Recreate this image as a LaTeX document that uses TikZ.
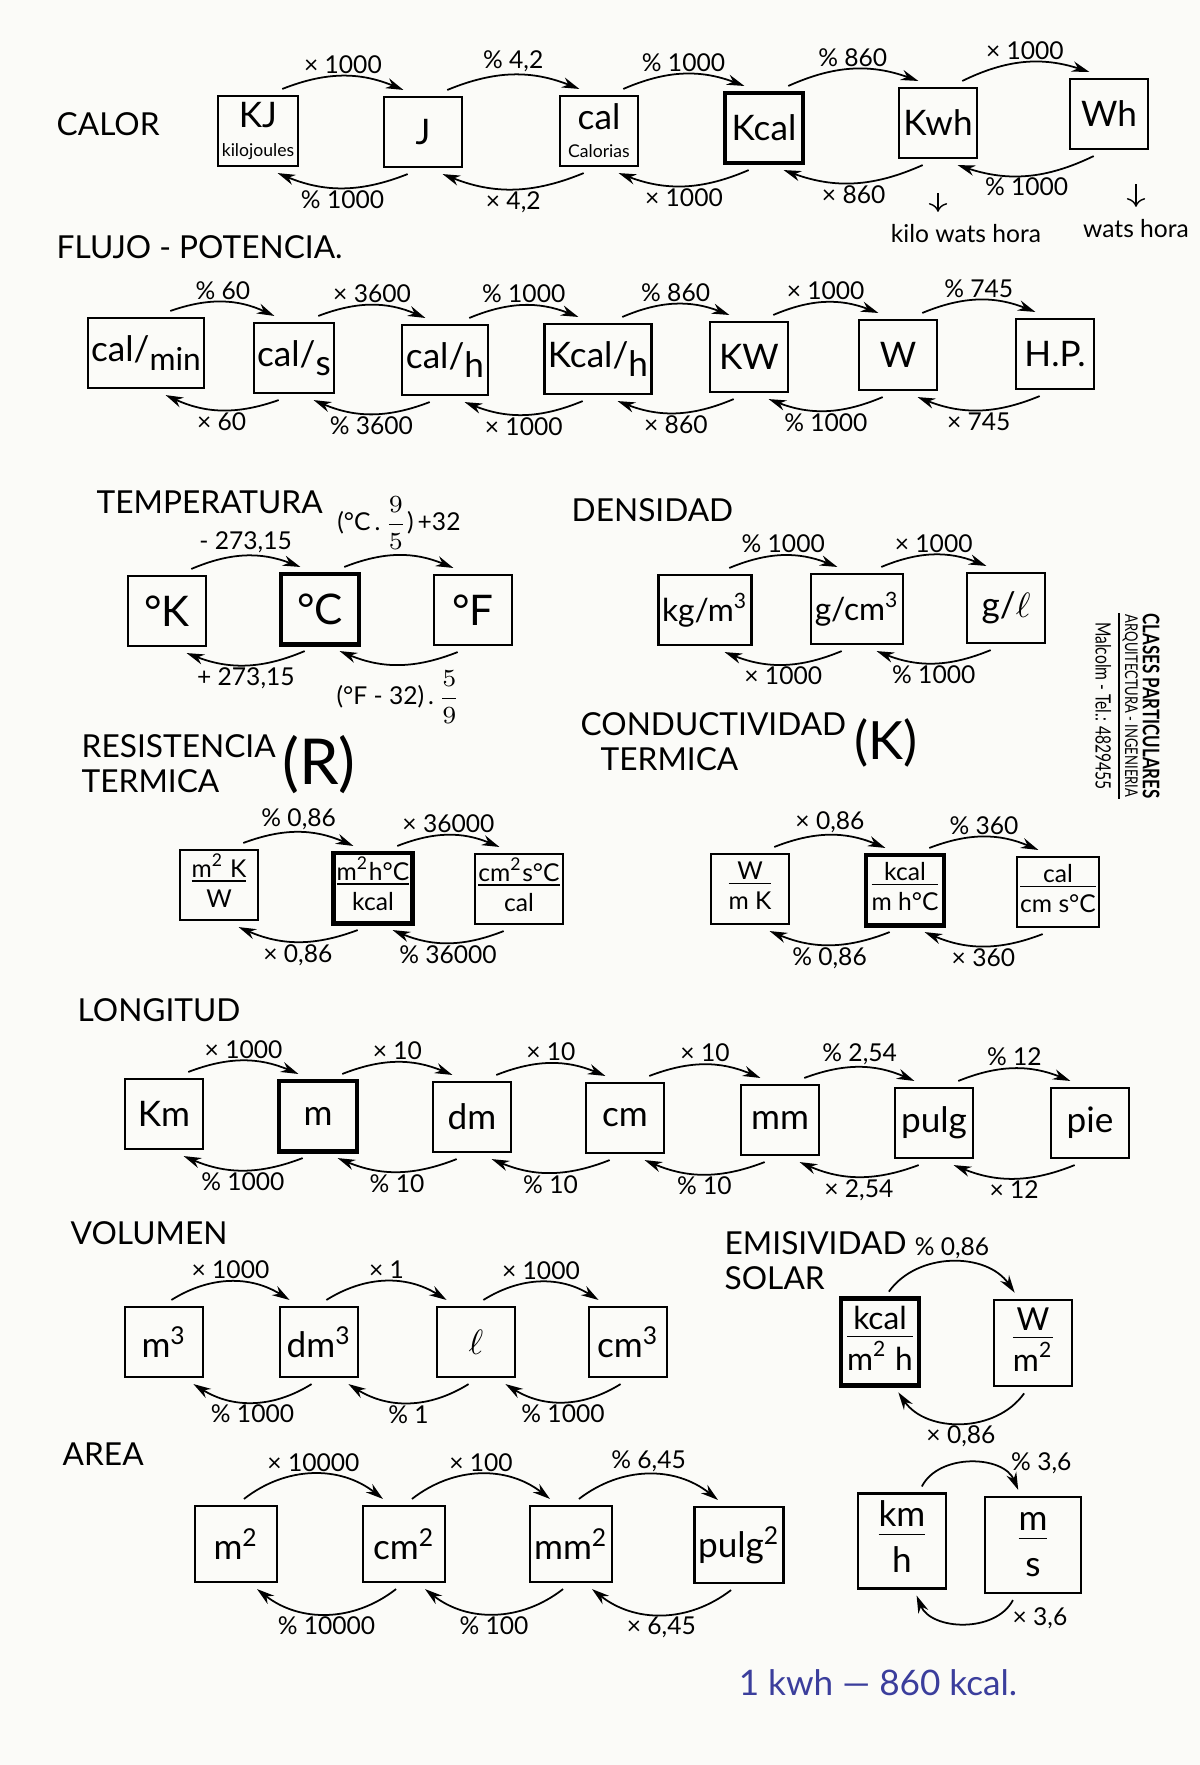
\documentclass[tikz,border=0pt]{standalone}
\usepackage{fontspec}
\setmainfont{Lato}
\usepackage{tikz}
\usetikzlibrary{arrows.meta}
\definecolor{penBlue}{HTML}{3B3E9C}
\definecolor{paperTone}{HTML}{FBFBF8}
\newcommand{\ufrac}[2]{\begin{tabular}{@{}c@{}}#1\\[-1.5pt]\hline\rule{0pt}{1.05em}#2\end{tabular}}

\begin{document}
\begin{tikzpicture}[x=0.01cm,y=0.01cm,
  unitbox/.style={draw,line width=0.6pt,minimum width=0.78cm,minimum height=0.70cm,
    inner sep=1pt,outer sep=2pt,align=center,font=\normalsize},
  keybox/.style={unitbox,line width=1.4pt},
  bigbox/.style={minimum width=0.82cm,minimum height=0.76cm},
  conv/.style={-{Stealth[length=5pt,width=3pt]},line width=0.5pt,bend left=22},
  factor/.style={font=\scriptsize,inner sep=0.5pt},
  heading/.style={anchor=west,align=left,inner sep=0pt,font=\fontsize{9}{10}\selectfont}]
\useasboundingbox (0,0) rectangle (1200,-1765);
\fill[paperTone] (0,0) rectangle (1200,-1765);

% calor
\node[heading] (calorT) at (56,-124) {CALOR};
\node[unitbox] (kj) at (258,-131) {KJ\\[-4pt]{\tiny kilojoules}};
\node[unitbox] (j) at (423,-132) {J};
\node[unitbox] (cal) at (599,-131) {cal\\[-4pt]{\tiny Calorias}};
\node[keybox] (kcal) at (764,-128) {Kcal};
\node[unitbox] (kwh) at (938,-123) {Kwh};
\node[unitbox] (wh) at (1109,-114) {Wh};
\foreach \a/\b/\t in {kj/j/{× 1000},j/cal/{\% 4,2},cal/kcal/{\% 1000},kcal/kwh/{\% 860},kwh/wh/{× 1000}}
  \draw[conv] (\a.60) to node[factor,above] {\t} (\b.115);
\foreach \a/\b/\t in {j/kj/{\% 1000},cal/j/{× 4,2},kcal/cal/{× 1000},kwh/kcal/{× 860},wh/kwh/{\% 1000}}
  \draw[conv] (\a.250) to node[factor,below] {\t} (\b.295);
\node[factor] (kwhnote) at (966,-234) {kilo wats hora};
\node[factor] (whnote) at (1136,-229) {wats hora};
\draw[->,line width=0.4pt,shorten <=8pt,shorten >=3pt] (kwh.south) -- (kwh.south |- kwhnote.north);
\draw[->,line width=0.4pt,shorten <=8pt,shorten >=3pt] (whnote.north |- wh.south) -- (whnote.north);

% flujo - potencia
\node[heading] (flujoT) at (56,-247) {FLUJO - POTENCIA.};
\node[unitbox] (calmin) at (146,-353) {cal/\raisebox{-0.5ex}{\small min}};
\node[unitbox] (cals) at (294,-358) {cal/\raisebox{-0.5ex}{s}};
\node[unitbox] (calh) at (445,-360) {cal/\raisebox{-0.5ex}{h}};
\node[unitbox] (kcalh) at (598,-359) {Kcal/\raisebox{-0.5ex}{h}};
\node[unitbox] (kw) at (749,-357) {KW};
\node[unitbox] (w) at (898,-355) {W};
\node[unitbox] (hp) at (1055,-354) {H.P.};
\foreach \a/\b/\t in {calmin/cals/{\% 60},cals/calh/{× 3600},calh/kcalh/{\% 1000},kcalh/kw/{\% 860},kw/w/{× 1000},w/hp/{\% 745}}
  \draw[conv] (\a.60) to node[factor,above] {\t} (\b.115);
\foreach \a/\b/\t in {cals/calmin/{× 60},calh/cals/{\% 3600},kcalh/calh/{× 1000},kw/kcalh/{× 860},w/kw/{\% 1000},hp/w/{× 745}}
  \draw[conv] (\a.250) to node[factor,below] {\t} (\b.295);

% temperatura
\node[heading] (tempT) at (96,-502) {TEMPERATURA};
\node[unitbox,font=\large] (degk) at (167,-611) {°K};
\node[keybox,font=\large] (degc) at (320,-609) {°C};
\node[unitbox,font=\large] (degf) at (473,-610) {°F};
\draw[conv] (degk.60) to node[factor,above] {- 273,15} (degc.115);
\draw[conv] (degc.60) to node[factor,above=1pt] {(°C\,.\,${\displaystyle\frac{9}{5}}$)\,+32} (degf.115);
\draw[conv] (degc.250) to node[factor,below] {+ 273,15} (degk.295);
\draw[conv] (degf.250) to node[factor,below=1pt] {(°F - 32)\,.\,${\displaystyle\frac{5}{9}}$} (degc.295);

% densidad
\node[heading] (densT) at (571,-510) {DENSIDAD};
\node[unitbox,font=\small] (kgm) at (705,-610) {kg/m\textsuperscript{3}};
\node[unitbox,font=\small] (gcm) at (857,-609) {g/cm\textsuperscript{3}};
\node[unitbox] (gl) at (1006,-608) {g/$\ell$};
\draw[conv] (kgm.60) to node[factor,above] {\% 1000} (gcm.115);
\draw[conv] (gcm.60) to node[factor,above] {× 1000} (gl.115);
\draw[conv] (gcm.250) to node[factor,below] {× 1000} (kgm.295);
\draw[conv] (gl.250) to node[factor,below] {\% 1000} (gcm.295);

\node[rotate=-90,inner sep=0pt] (stamp) at (1125,-706) {\scalebox{0.74}[1]{\fontsize{5}{5.5}\selectfont
  \renewcommand{\arraystretch}{0.9}\begin{tabular}{@{}c@{}}
  \fontsize{6.5}{7}\selectfont\bfseries CLASES PARTICULARES\\
  \fontsize{5}{5.5}\selectfont ARQUITECTURA - INGENIERIA\\\hline
  \rule{0pt}{6.5pt}\fontsize{6}{7}\selectfont Malcolm - Tel.: 4829455\end{tabular}}};

% resistencia termica
\node[heading] (resT) at (81,-764) {RESISTENCIA\\TERMICA};
\node[font=\fontsize{18}{20}\selectfont] (resR) at (319,-765) {(R)};
\node[unitbox,font=\scriptsize] (rmk) at (219,-885) {\ufrac{m\textsuperscript{2} K}{W}};
\node[keybox,font=\scriptsize] (rmh) at (373,-888) {\ufrac{m\textsuperscript{2}h°C}{kcal}};
\node[unitbox,font=\scriptsize] (rcm) at (519,-889) {\ufrac{cm\textsuperscript{2}s°C}{cal}};
\draw[conv] (rmk.60) to node[factor,above] {\% 0,86} (rmh.115);
\draw[conv] (rmh.60) to node[factor,above] {× 36000} (rcm.115);
\draw[conv] (rmh.250) to node[factor,below] {× 0,86} (rmk.295);
\draw[conv] (rcm.250) to node[factor,below] {\% 36000} (rmh.295);

% conductividad termica
\node[heading] (condT) at (580,-742) {CONDUCTIVIDAD\\\hspace{0.2cm}TERMICA};
\node[font=\fontsize{15}{17}\selectfont] (condK) at (886,-743) {(K)};
\node[unitbox,font=\scriptsize] (kwmk) at (750,-889) {\ufrac{W}{m K}};
\node[keybox,font=\scriptsize] (kkmh) at (905,-890) {\ufrac{kcal}{m h°C}};
\node[unitbox,font=\scriptsize] (kcms) at (1058,-892) {\ufrac{cal}{cm s°C}};
\draw[conv] (kwmk.60) to node[factor,above] {× 0,86} (kkmh.115);
\draw[conv] (kkmh.60) to node[factor,above] {\% 360} (kcms.115);
\draw[conv] (kkmh.250) to node[factor,below] {\% 0,86} (kwmk.295);
\draw[conv] (kcms.250) to node[factor,below] {× 360} (kkmh.295);

% longitud
\node[heading] (longT) at (77,-1010) {LONGITUD};
\node[unitbox] (lkm) at (164,-1114) {Km};
\node[keybox] (lm) at (318,-1116) {m};
\node[unitbox] (ldm) at (472,-1117) {dm};
\node[unitbox] (lcm) at (625,-1118) {cm};
\node[unitbox] (lmm) at (780,-1120) {mm};
\node[unitbox] (lpulg) at (934,-1123) {pulg};
\node[unitbox] (lpie) at (1090,-1123) {pie};
\foreach \a/\b/\t in {lkm/lm/{× 1000},lm/ldm/{× 10},ldm/lcm/{× 10},lcm/lmm/{× 10},lmm/lpulg/{\% 2,54},lpulg/lpie/{\% 12}}
  \draw[conv] (\a.60) to node[factor,above] {\t} (\b.115);
\foreach \a/\b/\t in {lm/lkm/{\% 1000},ldm/lm/{\% 10},lcm/ldm/{\% 10},lmm/lcm/{\% 10},lpulg/lmm/{× 2,54},lpie/lpulg/{× 12}}
  \draw[conv] (\a.250) to node[factor,below] {\t} (\b.295);

% volumen
\node[heading] (volT) at (70,-1233) {VOLUMEN};
\node[unitbox] (vm) at (164,-1342) {m\textsuperscript{3}};
\node[unitbox] (vdm) at (319,-1342) {dm\textsuperscript{3}};
\node[unitbox] (vl) at (476,-1342) {$\ell$};
\node[unitbox] (vcm) at (628,-1342) {cm\textsuperscript{3}};
\foreach \a/\b/\t in {vm/vdm/{× 1000},vdm/vl/{× 1},vl/vcm/{× 1000}}
  \draw[conv,bend left=32] (\a.80) to node[factor,above] {\t} (\b.125);
\foreach \a/\b/\t in {vdm/vm/{\% 1000},vl/vdm/{\% 1},vcm/vl/{\% 1000}}
  \draw[conv,bend left=32] (\a.260) to node[factor,below] {\t} (\b.305);

% emisividad solar
\node[heading] (emiT) at (724,-1261) {EMISIVIDAD\\SOLAR};
\node[keybox,font=\small] (ekcal) at (880,-1342) {\ufrac{kcal}{m\textsuperscript{2} h}};
\node[unitbox,font=\small] (ewm) at (1033,-1343) {\ufrac{W}{m\textsuperscript{2}}};
\draw[conv,bend left=55] (ekcal.80) to node[factor,above] {\% 0,86} (ewm.110);
\draw[conv,bend left=55] (ewm.260) to node[factor,below] {× 0,86} (ekcal.290);

% area
\node[heading] (areaT) at (62,-1454) {AREA};
\node[unitbox,bigbox] (am) at (236,-1544) {m\textsuperscript{2}};
\node[unitbox,bigbox] (acm) at (404,-1544) {cm\textsuperscript{2}};
\node[unitbox,bigbox] (amm) at (571,-1544) {mm\textsuperscript{2}};
\node[unitbox,bigbox] (apulg) at (739,-1545) {pulg\textsuperscript{2}};
\foreach \a/\b/\t in {am/acm/{× 10000},acm/amm/{× 100},amm/apulg/{\% 6,45}}
  \draw[conv,bend left=38] (\a.80) to node[factor,above] {\t} (\b.115);
\foreach \a/\b/\t in {acm/am/{\% 10000},amm/acm/{\% 100},apulg/amm/{× 6,45}}
  \draw[conv,bend left=38] (\a.260) to node[factor,below] {\t} (\b.295);

% km/h - m/s
\node[unitbox,minimum width=0.88cm,minimum height=0.92cm] (skmh) at (902,-1541) {\ufrac{km}{h}};
\node[unitbox,minimum width=0.96cm,minimum height=0.96cm] (sms) at (1033,-1545) {\ufrac{m}{s}};
\draw[conv,bend left=65] (skmh.70) to node[factor,pos=0.85,above right] {\% 3,6} (sms.105);
\draw[conv,bend left=65] (sms.250) to node[factor,pos=0.05,below right] {× 3,6} (skmh.285);

\node[text=penBlue,font=\normalsize] (note) at (878,-1683) {1 kwh — 860 kcal.};
\end{tikzpicture}
\end{document}
